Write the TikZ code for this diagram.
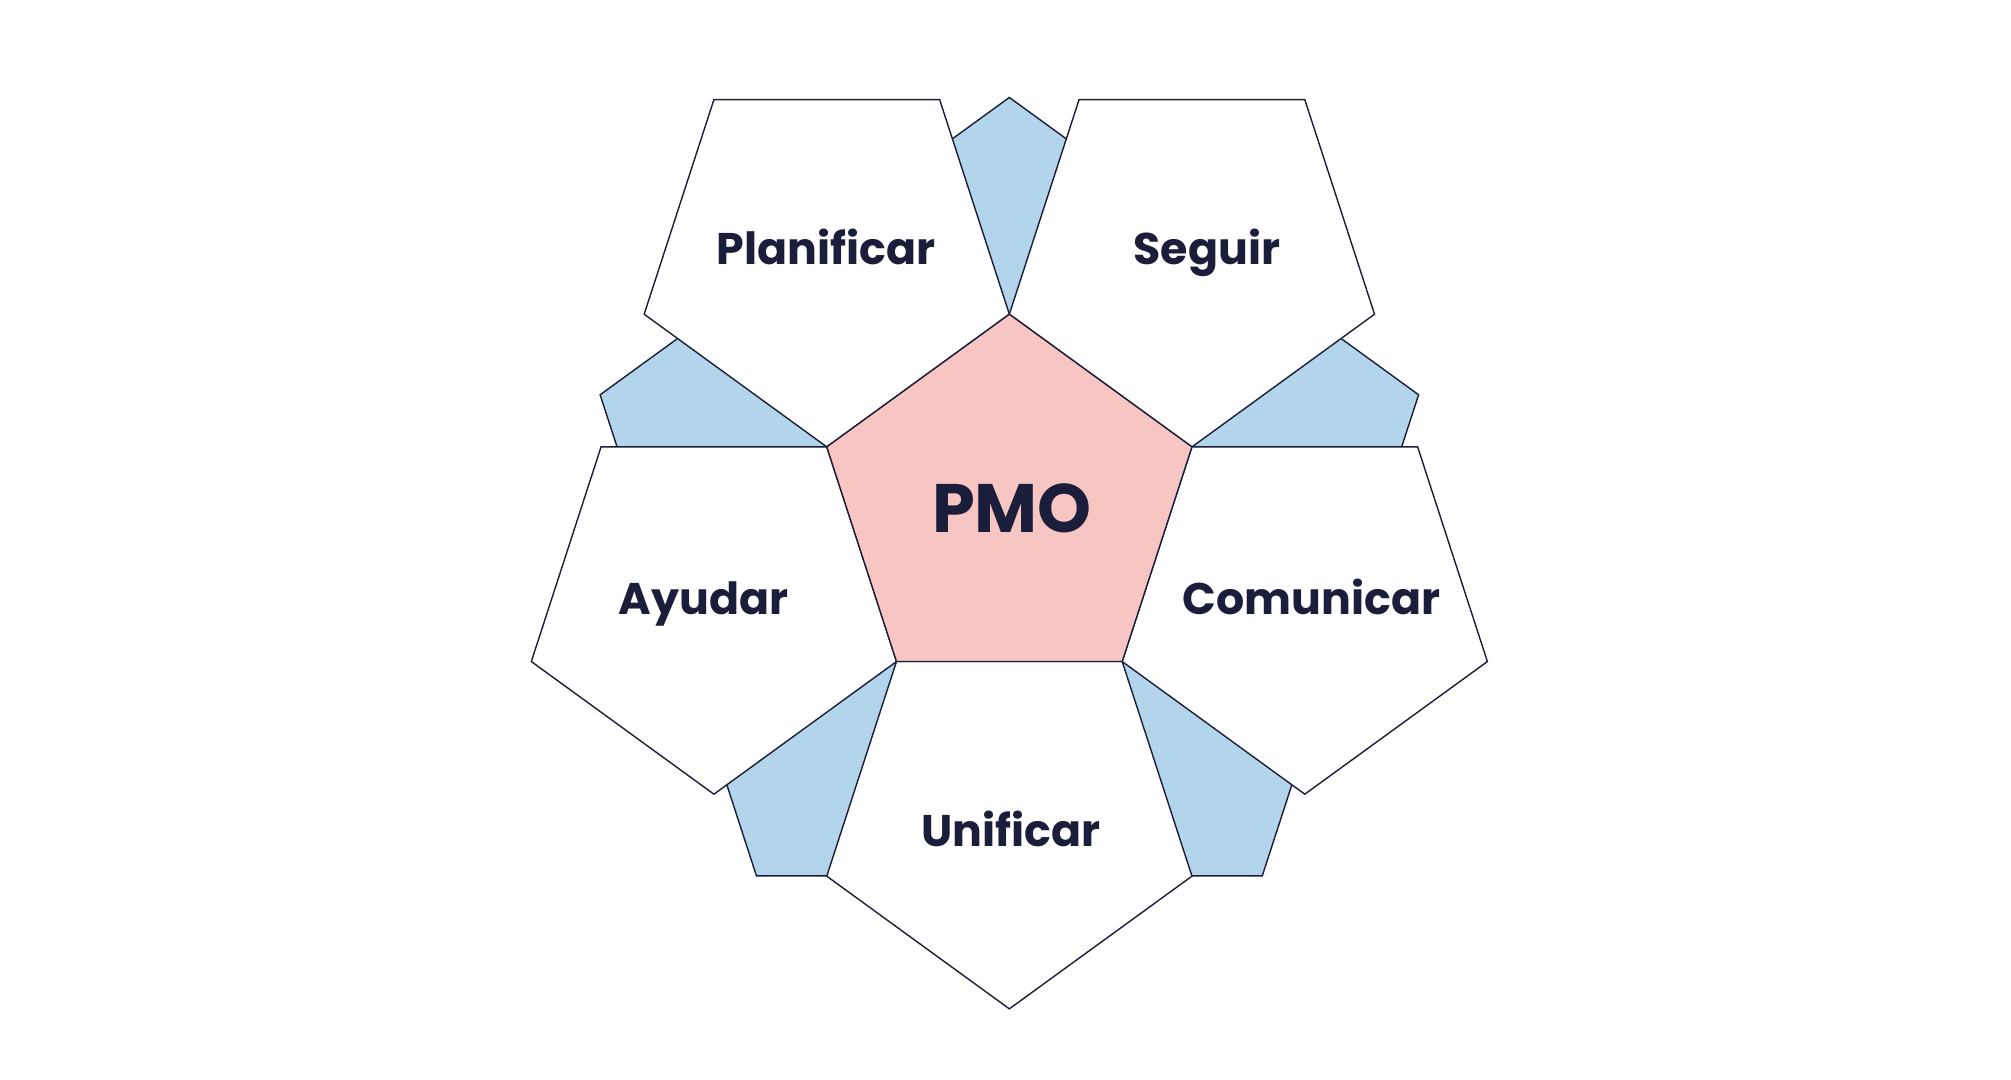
\documentclass[tikz,border=0pt]{standalone}
\usepackage{fontspec}
\setmainfont{Poppins}
\definecolor{PrimaryColor}{RGB}{27,30,58}
\definecolor{PetalBlue}{RGB}{179,213,235}
\definecolor{HubPink}{RGB}{247,198,194}
\usetikzlibrary{positioning}
\tikzstyle{back} = [draw=PrimaryColor, line width=0.4pt, fill=PetalBlue]
\tikzstyle{petal} = [draw=PrimaryColor, line width=0.4pt, fill=white]
\tikzstyle{hub} = [draw=PrimaryColor, line width=0.4pt, fill=HubPink]
\tikzstyle{petaltext} = [text=PrimaryColor, anchor=base, inner sep=0pt, font=\fontsize{12.6}{15}\selectfont\bfseries]
\tikzstyle{hubtext} = [text=PrimaryColor, anchor=base, inner sep=0pt, font=\fontsize{19.5}{22}\selectfont\bfseries]

\begin{document}
\begin{tikzpicture}[x=0.012825cm, y=0.012825cm]
    \useasboundingbox (0,0) rectangle (1568,842);

    % Blue pentagon behind
    \draw[back, shift={(787,430.5)}] (90:335.5) -- (162:335.5) -- (234:335.5) -- (306:335.5) -- (18:335.5) -- cycle;

    % Outer pentagons
    \foreach \b in {54,126,198,270,342}
        \draw[petal, shift={(787,447.3)}, shift={(\b:242.2)}] (54:149.7) -- (126:149.7) -- (198:149.7) -- (270:149.7) -- (342:149.7) -- cycle;

    % Central pentagon
    \draw[hub, shift={(787,447.3)}] (90:149.7) -- (162:149.7) -- (234:149.7) -- (306:149.7) -- (18:149.7) -- cycle;

    % Labels
    \node[hubtext] (pmo) at (789,426.6) {PMO};
    \node[petaltext] (planificar) at (644,635.4) {Planificar};
    \node[petaltext] (seguir) at (941,635.4) {Seguir};
    \node[petaltext] (ayudar) at (548.5,363.2) {Ayudar};
    \node[petaltext] (comunicar) at (1022.5,363.2) {Comunicar};
    \node[petaltext] (unificar) at (788,182.3) {Unificar};
\end{tikzpicture}
\end{document}
